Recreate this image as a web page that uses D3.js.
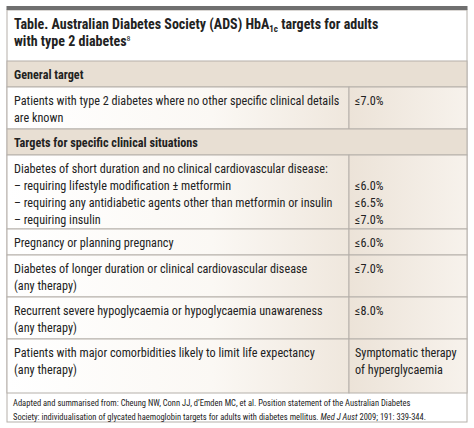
<!DOCTYPE html>
<html>
<head>
<meta charset="UTF-8">
<style>
  body { margin: 0; background: #fff; }
  text { font-family: "Liberation Sans Narrow", "Roboto Condensed", "Liberation Sans", sans-serif; fill: #222; }
</style>
</head>
<body>
<svg></svg>
<script src="https://d3js.org/d3.v7.min.js"></script>
<script>
  let width = 474, height = 428;
  let left = 7, right = 467, split = 349;

  let titleLines = ["Table. Australian Diabetes Society (ADS) HbA", "with type 2 diabetes"];

  // kind: section (full width tan) or row (two columns)
  let rowKinds = ["section", "row", "section", "row", "row", "row", "row", "row"];
  let rowLeft = [
    ["General target"],
    ["Patients with type 2 diabetes where no other specific clinical details", "are known"],
    ["Targets for specific clinical situations"],
    ["Diabetes of short duration and no clinical cardiovascular disease:", "\u2013 requiring lifestyle modification \u00b1 metformin", "\u2013 requiring any antidiabetic agents other than metformin or insulin", "\u2013 requiring insulin"],
    ["Pregnancy or planning pregnancy"],
    ["Diabetes of longer duration or clinical cardiovascular disease", "(any therapy)"],
    ["Recurrent severe hypoglycaemia or hypoglycaemia unawareness", "(any therapy)"],
    ["Patients with major comorbidities likely to limit life expectancy", "(any therapy)"]
  ];
  let rowRight = [
    [],
    ["\u22647.0%"],
    [],
    ["", "\u22646.0%", "\u22646.5%", "\u22647.0%"],
    ["\u22646.0%"],
    ["\u22647.0%"],
    ["\u22648.0%"],
    ["Symptomatic therapy", "of hyperglycaemia"]
  ];
  let footLines = [
    "Adapted and summarised from: Cheung NW, Conn JJ, d\u2019Emden MC, et al. Position statement of the Australian Diabetes",
    "Society: individualisation of glycated haemoglobin targets for adults with diabetes mellitus. |Med J Aust| 2009; 191: 339-344."
  ];

  let svg = d3.select("svg").attr("width", width).attr("height", height);
  let defs = svg.append("defs");
  let g1 = defs.append("linearGradient").attr("id", "wgrad");
  g1.append("stop").attr("offset", "0%").attr("stop-color", "#ffffff");
  g1.append("stop").attr("offset", "60%").attr("stop-color", "#fbf8f4");
  g1.append("stop").attr("offset", "100%").attr("stop-color", "#efe7dd");
  let g2 = defs.append("linearGradient").attr("id", "rgrad");
  g2.append("stop").attr("offset", "0%").attr("stop-color", "#ece3d8");
  g2.append("stop").attr("offset", "100%").attr("stop-color", "#f7f2ec");

  let lh = 17;
  // compute row positions
  let y = 61;
  let rows = rowKinds.map((k, i) => {
    let n = rowLeft[i].length;
    let h = n === 1 ? 26 : (n === 2 ? 42 : 74);
    if (i === 7) h = 54;
    let r = { kind: k, y: y, h: h, left: rowLeft[i], right: rowRight[i] };
    y += h;
    return r;
  });
  let footY = y;

  // outer frame
  svg.append("rect").attr("x", left).attr("y", 10).attr("width", right - left).attr("height", 412)
    .attr("fill", "#fff").attr("stroke", "#b5b0aa");
  svg.append("rect").attr("x", left - 0.5).attr("y", 6).attr("width", right - left + 1).attr("height", 4).attr("fill", "#6f6f6f");

  let title = svg.append("g");
  title.selectAll("text").data(titleLines).enter().append("text")
    .attr("x", left + 7).attr("y", (d, i) => 29 + i * 17)
    .style("font-weight", "bold").style("font-size", "14px")
    .each(function (d, i) {
      let t = d3.select(this);
      t.append("tspan").text(d);
      if (i === 0) {
        t.append("tspan").text("1c").attr("font-size", "9px").attr("dy", 3);
        t.append("tspan").text(" targets for adults").attr("dy", -3);
      } else {
        t.append("tspan").text("8").attr("font-size", "8px").attr("dy", -5).style("font-weight", "normal");
      }
    });

  let rg = svg.append("g").selectAll("g").data(rows).enter().append("g");
  rg.each(function (r) {
    let s = d3.select(this);
    if (r.kind === "section") {
      s.append("rect").attr("x", left).attr("y", r.y).attr("width", right - left).attr("height", r.h)
        .attr("fill", "#e8dfd3").attr("stroke", "#b5b0aa");
    } else {
      s.append("rect").attr("x", left).attr("y", r.y).attr("width", split - left).attr("height", r.h)
        .attr("fill", "url(#wgrad)").attr("stroke", "#b5b0aa");
      s.append("rect").attr("x", split).attr("y", r.y).attr("width", right - split).attr("height", r.h)
        .attr("fill", "url(#rgrad)").attr("stroke", "#b5b0aa");
    }
    s.selectAll("text.l").data(r.left).enter().append("text").attr("class", "l")
      .attr("x", left + 7).attr("y", (d, i) => r.y + 18 + i * lh)
      .style("font-size", "12.2px").style("font-weight", r.kind === "section" ? "bold" : "normal")
      .text(d => d);
    s.selectAll("text.r").data(r.right).enter().append("text").attr("class", "r")
      .attr("x", split + 6).attr("y", (d, i) => r.y + 18 + i * lh)
      .style("font-size", "12.2px").text(d => d);
  });

  svg.append("g").selectAll("text").data(footLines).enter().append("text")
    .attr("x", left + 6).attr("y", (d, i) => footY + 13 + i * 14)
    .style("font-size", "8.5px")
    .each(function (d) {
      let t = d3.select(this);
      d.split("|").forEach((p, j) => t.append("tspan").text(p).style("font-style", j === 1 ? "italic" : "normal"));
    });
</script>
</body>
</html>
